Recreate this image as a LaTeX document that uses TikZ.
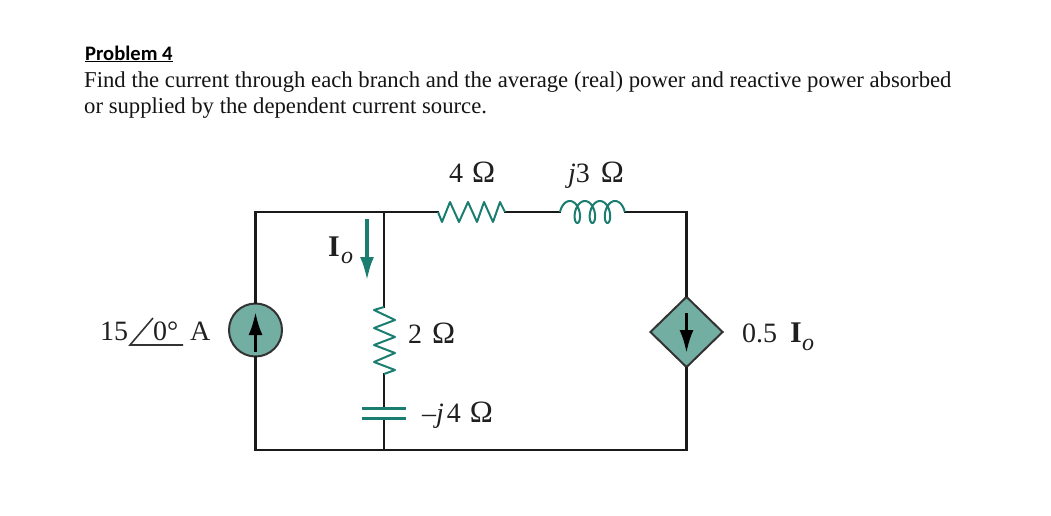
\documentclass[tikz,border=0pt]{standalone}
\usepackage{fontspec}
\setmainfont{Liberation Serif}
\newfontfamily\headfont{Carlito}
\usetikzlibrary{shapes.geometric,arrows.meta}
\definecolor{teal1}{HTML}{1A7D6F}
\definecolor{fillg}{HTML}{73AEA3}
\definecolor{wirec}{HTML}{1A1A1A}
\newcommand{\ohm}{{\fontsize{31}{30}\selectfont Ω}}
\begin{document}
\begin{tikzpicture}[x=1pt,y=-1pt,
  wire/.style={line width=2.8pt,draw=wirec,line join=miter,line cap=rect},
  comp/.style={line width=2pt,draw=teal1,line join=round},
  plate/.style={line width=3pt,draw=teal1},
  ctext/.style={inner sep=0pt,anchor=base west,font=\fontsize{28}{30}\selectfont,text=black!88},
  txt/.style={inner sep=0pt,anchor=base west,font=\fontsize{22.7}{26}\selectfont,text=black!92},
  src/.style={fill=fillg,draw=black!80,line width=2pt},
  head/.style={inner sep=0pt,anchor=base west,font=\headfont\bfseries\fontsize{20.6}{24}\selectfont},
  bignode/.style={inner sep=0pt,anchor=base west,font=\bfseries\fontsize{30}{32}\selectfont,text=black!88},
  sub/.style={inner sep=0pt,anchor=base west,font=\itshape\fontsize{24}{26}\selectfont,text=black!88}]
\useasboundingbox (0,0) rectangle (1051,515);
% text
\node[head] (title) at (85,60) {\underline{Problem 4}};
\node[txt] (l1) at (84,87) {Find the current through each branch and the average (real) power and reactive power absorbed};
\node[txt] (l2) at (84,113) {or supplied by the dependent current source.};
% coordinates
\coordinate (tl) at (255.5,212);
\coordinate (tm) at (384,212);
\coordinate (tr) at (686.5,212);
\coordinate (bl) at (255.5,450);
\coordinate (bm) at (384,450);
\coordinate (br) at (686.5,450);
\coordinate (ra) at (438,212);
\coordinate (rb) at (505,212);
\coordinate (la) at (560,212);
\coordinate (lb) at (625,212);
\coordinate (va) at (384,307);
\coordinate (vb) at (384,374);
\coordinate (c1) at (384,408);
\coordinate (c2) at (384,418);
\node[circle,src,minimum size=53pt,inner sep=0pt] (is) at (255.5,330) {};
\node[diamond,src,minimum width=73pt,minimum height=71pt,inner sep=0pt] (ds) at (686.5,332) {};
% wires
\draw[wire] (is) -- (tl) -- (ra);
\draw[wire] (rb) -- (la);
\draw[wire] (lb) -- (tr) -- (ds);
\draw[wire] (ds) -- (br) -- (bl) -- (is);
\draw[wire] (tm) -- (va);
\draw[wire] (vb) -- (c1);
\draw[wire] (c2) -- (bm);
% resistors
\draw[comp] (ra) -- (442,222) -- (450,202) -- (459,222) -- (468,202) -- (477,222) -- (484,202) -- (493,222) -- (500,202) -- (rb);
\draw[comp] (va) -- (374,310) -- (395,320) -- (374,328) -- (395,337) -- (374,345) -- (395,353) -- (374,362) -- (395,370) -- (vb);
% inductor
\draw[comp,shift={(la)}] plot[domain=0:21.99,samples=140,smooth]
  ({2.4*\x+6*(1-cos(\x r))},{-11*sin(\x r)});
% capacitor
\path (c1) +(-22,0) coordinate (c1l) +(22,0) coordinate (c1r);
\path (c2) +(-22,0) coordinate (c2l) +(22,0) coordinate (c2r);
\draw[plate] (c1l) -- (c1r);
\draw[plate] (c2l) -- (c2r);
% source arrows
\coordinate (ia) at (255.5,352); \coordinate (ib) at (255.5,312);
\draw[line width=3pt,black,-{Latex[length=23pt,width=14pt]}] (ia) -- (ib);
\coordinate (da) at (686.5,313); \coordinate (db) at (686.5,353);
\draw[line width=3pt,black,-{Latex[length=23pt,width=14pt]}] (da) -- (db);
\coordinate (ca) at (367,219); \coordinate (cb) at (367,281);
\draw[line width=4pt,teal1,-{Latex[length=24pt,width=14pt]}] (ca) -- (cb);
% labels
\node[ctext] (r4) at (449,182) {4\hspace{9pt}\ohm};
\node[ctext] (x3) at (568,182) {\textit{j}3\hspace{11pt}\ohm};
\node[ctext] (r2) at (408,343) {2\hspace{10pt}\ohm};
\node[ctext] (xc) at (422,422) {–\textit{j}\hspace{3pt}4\hspace{9pt}\ohm};
\node[bignode] (io) at (328,256) {I};
\node[sub] (ios) at (341,263) {o};
\node[ctext] (dv) at (742,342) {0.5};
\node[bignode] (dvi) at (790,342) {I};
\node[sub] (dvs) at (802,350) {o};
\node[ctext] (a15) at (100,340) {15};
\node[ctext] (a0) at (153,340) {0°};
\node[ctext] (aA) at (190,340) {A};
\coordinate (ang1) at (153,318); \coordinate (ang2) at (130,345); \coordinate (ang3) at (183,345);
\draw[line width=1.6pt,black!80] (ang1) -- (ang2) -- (ang3);
\end{tikzpicture}
\end{document}
